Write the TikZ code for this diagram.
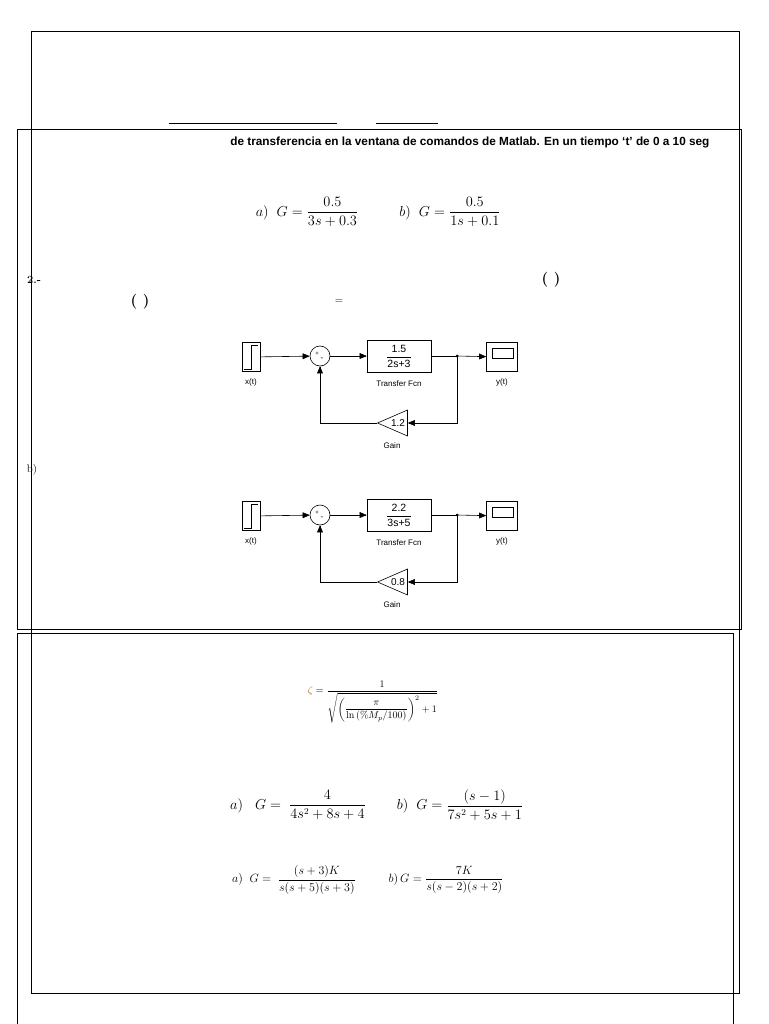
\documentclass[tikz,border=0pt]{standalone}
\usepackage{amsmath}
\usepackage{fontspec}
\setsansfont{Liberation Sans}
\usetikzlibrary{arrows,shapes,positioning}

\begin{document}
\begin{tikzpicture}[
    x=1pt, y=-1pt,
    blk/.style={draw, semithick, fill=white},
    lbl/.style={font=\sffamily\fontsize{8}{9}\selectfont},
    sig/.style={-triangle 45, semithick},
    eq/.style={font=\fontsize{13.5}{16}\selectfont}
  ]
    \useasboundingbox (0,0) rectangle (768,1024);
    % Page frames
    \draw[thin] (31,31) rectangle (739,993);
    \draw[thin] (17,129) rectangle (741,629);
    \draw[thin] (17,1024) -- (17,633) -- (733,633) -- (733,1024);
    \draw[thin] (169,123) -- (337,123);
    \draw[thin] (376,123) -- (438,123);

    % Question 1
    \node[font=\sffamily\bfseries\fontsize{11.8}{14}\selectfont, anchor=east] (intro) at (713,142)
      {de transferencia en la ventana de comandos de Matlab. En un tiempo ‘t’ de 0 a 10 seg};
    \node[eq] (g1a) at (307,212) {$a)\;\; G=\dfrac{0.5}{3s+0.3}$};
    \node[eq] (g1b) at (450,212) {$b)\;\; G=\dfrac{0.5}{1s+0.1}$};

    % Question 2
    \node[font=\fontsize{11}{12}\selectfont\bfseries] (q2) at (34,280) {2.-};
    \node[font=\fontsize{15}{16}\selectfont\bfseries] (par1) at (551,280) {( )};
    \node[font=\fontsize{15}{16}\selectfont\bfseries] (par2) at (140,302) {( )};
    \node[font=\fontsize{11}{12}\selectfont] (eqs) at (339,302) {=};
    \node[font=\fontsize{11}{12}\selectfont] (qb) at (32,470) {b)};

    % Block diagrams
    \foreach \dy/\num/\den/\k in {0/1.5/2s+3/1.2, 159/2.2/3s+5/0.8} {
      \begin{scope}[yshift=-\dy]
        \node[blk, minimum width=18, minimum height=29, inner sep=0] (step) at (251,357) {};
        \draw[semithick] (244,369) -- (251,369) -- (251,345) -- (258,345);
        \node[blk, circle, minimum size=20, inner sep=0] (sum) at (320,356) {};
        \node[font=\sffamily\fontsize{6}{6}\selectfont] at (317,354) {+};
        \node[font=\sffamily\fontsize{8}{8}\selectfont] at (322,359) {-};
        \node[blk, minimum width=64, minimum height=32, inner sep=0] (tf) at (399,356)
          {\fontsize{10.5}{12}\selectfont$\dfrac{\text{\sffamily\num}}{\text{\sffamily\den}}$};
        \coordinate (br) at (457,356);
        \fill (br) circle (1.5);
        \node[blk, minimum width=31, minimum height=29, inner sep=0] (scope) at (502,357) {};
        \draw[semithick] (492,348) rectangle (513,358);
        \node[blk, isosceles triangle, shape border rotate=180, minimum height=30, minimum width=26,
          inner sep=0, isosceles triangle stretches] (gain) at (399,423) {};
        \node[font=\sffamily\fontsize{10}{12}\selectfont] at (398,423) {\k};
        \node[lbl] (xl) at (251,382) {x(t)};
        \node[lbl] (tfl) at (399,384) {Transfer Fcn};
        \node[lbl] (yl) at (502,382) {y(t)};
        \node[lbl] (gl) at (392,446) {Gain};
        \draw[sig] (step) -- (sum);
        \draw[sig] (sum) -- (tf);
        \draw[semithick] (tf) -- (br);
        \draw[sig] (br) -- (scope);
        \draw[sig] (br) |- (gain.east);
        \draw[sig] (gain.apex) -| (sum.south);
      \end{scope}
    }

    % Question 3
    \node[font=\fontsize{10}{12}\selectfont] (zeta) at (373,702)
      {$\color{orange!70!black}\zeta\color{black} =\dfrac{1}{\sqrt{\left(\dfrac{\pi}{\ln\left(\%M_p/100\right)}\right)^2+1}}$};
    \node[eq] (g2a) at (298,805) {$a)\;\;\; G=\;\dfrac{4}{4s^2+8s+4}$};
    \node[eq] (g2b) at (460,805) {$b)\;\; G=\dfrac{(s-1)}{7s^2+5s+1}$};
    \node[font=\fontsize{11.5}{14}\selectfont] (g3a) at (294,880) {$a)\;\; G=\;\dfrac{(s+3)K}{s(s+5)(s+3)}$};
    \node[font=\fontsize{11.5}{14}\selectfont] (g3b) at (446,880) {$b)\,G=\dfrac{7K}{s(s-2)(s+2)}$};
\end{tikzpicture}
\end{document}
